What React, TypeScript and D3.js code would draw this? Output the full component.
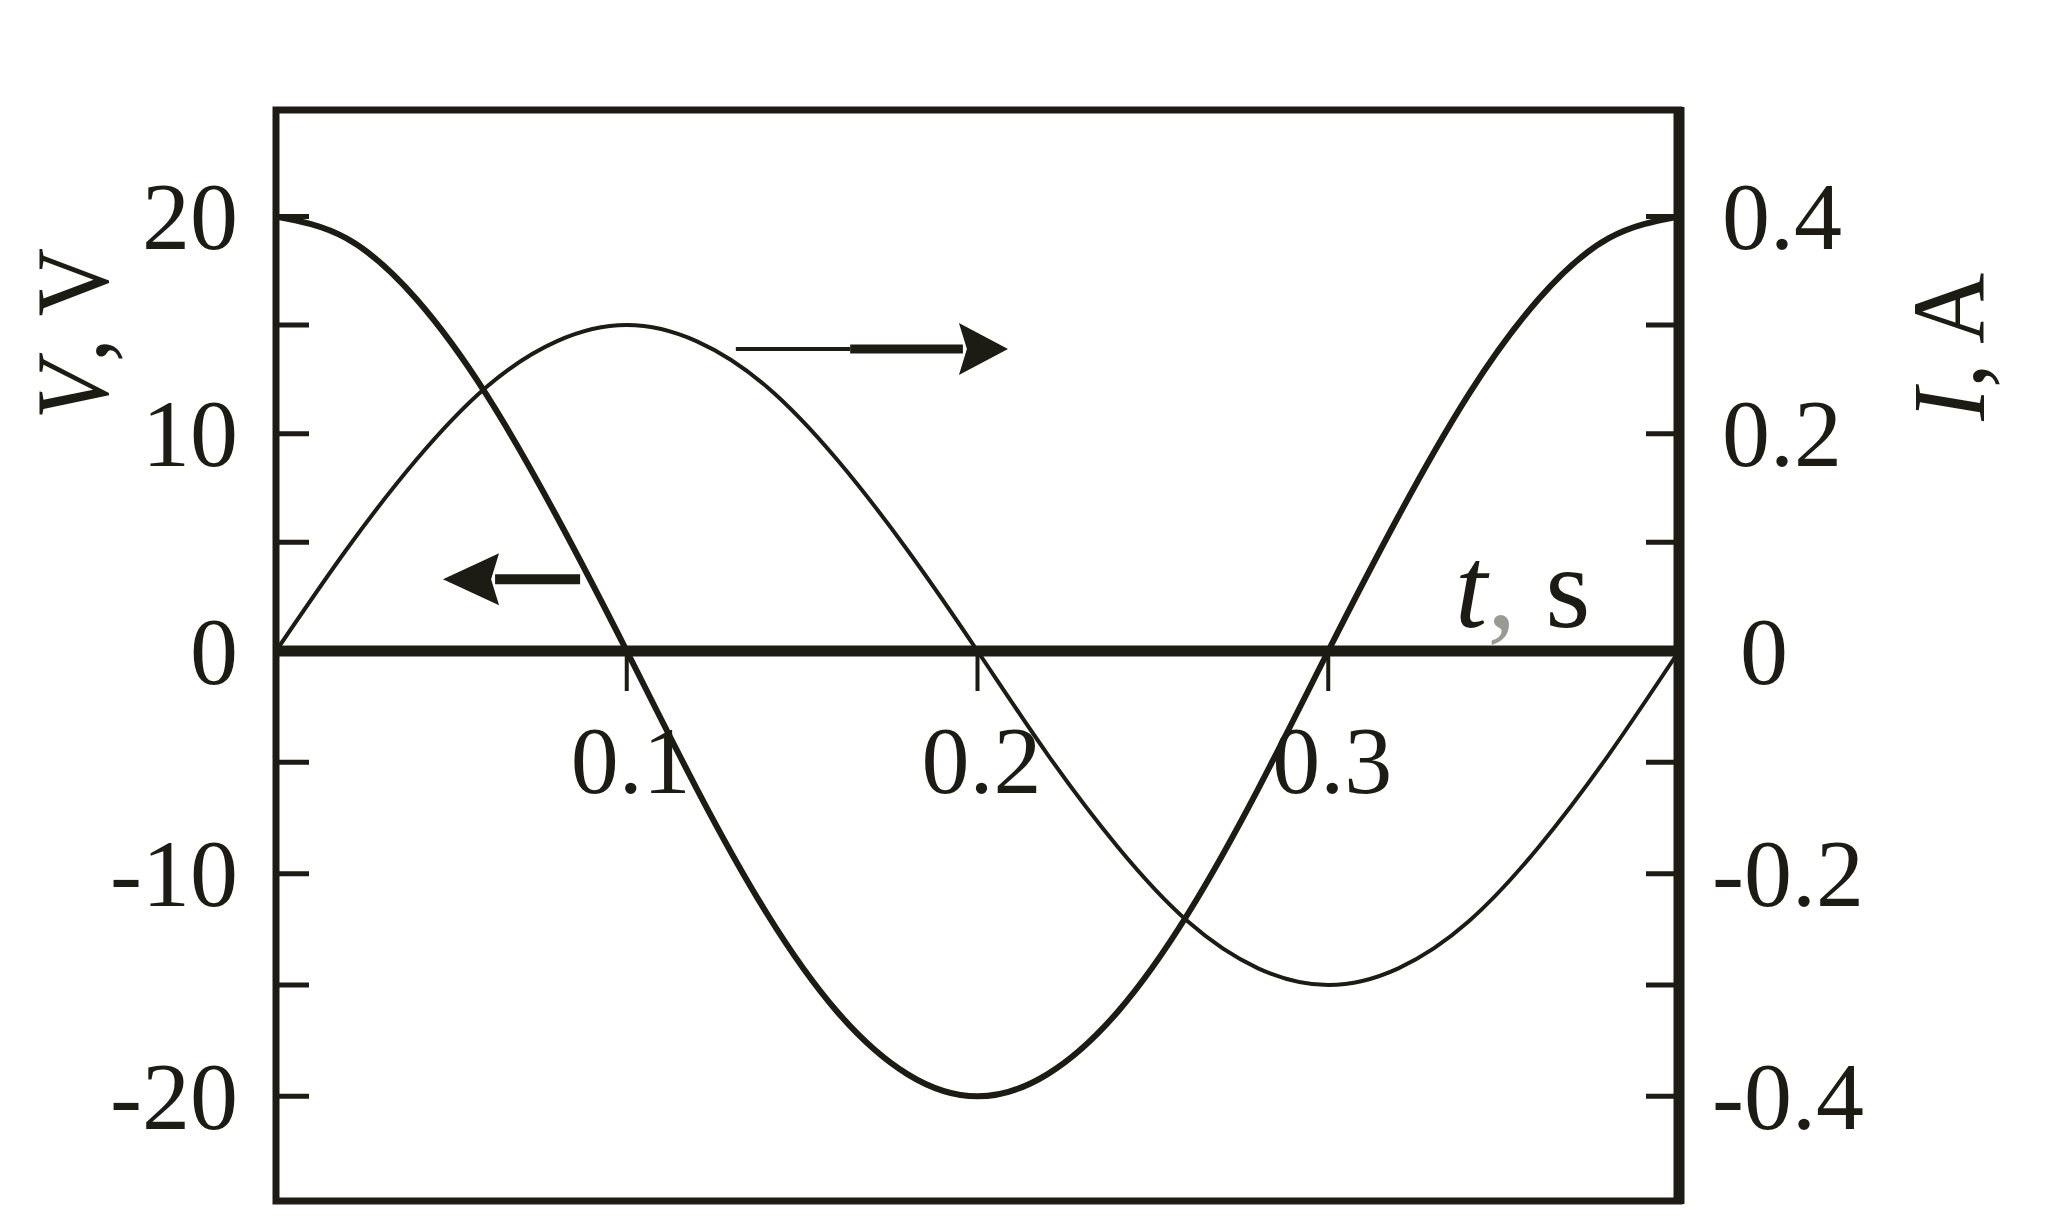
import { useEffect, useRef } from 'react';
import * as d3 from 'd3';

const timeS = [0, 0.02, 0.04, 0.06, 0.08, 0.1, 0.12, 0.14, 0.16, 0.18, 0.2, 0.22, 0.24, 0.26, 0.28, 0.3, 0.32, 0.34, 0.36, 0.38, 0.4];
const voltageV = [20, 19.0, 16.2, 11.8, 6.2, 0, -6.2, -11.8, -16.2, -19.0, -20, -19.0, -16.2, -11.8, -6.2, 0, 6.2, 11.8, 16.2, 19.0, 20];
const currentA = [0, 0.093, 0.176, 0.243, 0.285, 0.3, 0.285, 0.243, 0.176, 0.093, 0, -0.093, -0.176, -0.243, -0.285, -0.3, -0.285, -0.243, -0.176, -0.093, 0];

const vTickMarks = [-20, -15, -10, -5, 0, 5, 10, 15, 20];
const vTickValues = [-20, -10, 0, 10, 20];
const vTickLabels = ['-20', '-10', '0', '10', '20'];
const iTickValues = [-0.4, -0.2, 0, 0.2, 0.4];
const iTickLabels = ['-0.4', '-0.2', '0', '0.2', '0.4'];
const tTickValues = [0.1, 0.2, 0.3];
const tTickLabels = ['0.1', '0.2', '0.3'];

// arrows telling which curve belongs to which axis (t range, level in volts)
const arrowNotes = [
  { dir: 1, t0: 0.1311, tMid: 0.1637, tHead: 0.1947, tTip: 0.2087, v: 13.9 },
  { dir: -1, t0: 0.0867, tMid: 0.0867, tHead: 0.0636, tTip: 0.0476, v: 3.3 },
];

const ink = '#1c1c14';
const font = "'Liberation Serif', 'DejaVu Serif', serif";

export default function App() {
  const svgRef = useRef<SVGSVGElement>(null);

  useEffect(() => {
    if (!svgRef.current) return;
    const width = 2046;
    const height = 1216;
    const left = 276, right = 1679, top = 110, bottom = 1201;

    d3.select(svgRef.current).selectAll('*').remove();
    const svg = d3.select(svgRef.current)
      .attr('width', width)
      .attr('height', height);

    const x = d3.scaleLinear().domain([0, 0.4]).range([left, right]);
    const y = d3.scaleLinear().domain([-24.7, 0, 24.9]).range([bottom, 651, top]);
    const yI = d3.scaleLinear().domain([-0.494, 0, 0.498]).range([bottom, 651, top]);

    const vLine = d3.line<number>()
      .x((_, i) => x(timeS[i]))
      .y(d => y(d))
      .curve(d3.curveNatural);
    const iLine = d3.line<number>()
      .x((_, i) => x(timeS[i]))
      .y(d => yI(d))
      .curve(d3.curveNatural);

    svg.append('path')
      .attr('d', iLine(currentA))
      .attr('fill', 'none')
      .attr('stroke', ink)
      .attr('stroke-width', 4);

    svg.append('path')
      .attr('d', vLine(voltageV))
      .attr('fill', 'none')
      .attr('stroke', ink)
      .attr('stroke-width', 6);

    // zero line (time axis)
    svg.append('line')
      .attr('x1', left).attr('x2', right)
      .attr('y1', y(0)).attr('y2', y(0))
      .attr('stroke', ink).attr('stroke-width', 11);

    // frame
    svg.append('rect')
      .attr('x', left).attr('y', top)
      .attr('width', right - left).attr('height', bottom - top)
      .attr('fill', 'none').attr('stroke', ink).attr('stroke-width', 7);
    svg.append('line')
      .attr('x1', right).attr('x2', right)
      .attr('y1', top - 3).attr('y2', bottom + 3)
      .attr('stroke', ink).attr('stroke-width', 11);

    // inward ticks on both sides
    svg.append('g').selectAll('line')
      .data(vTickMarks)
      .enter()
      .append('line')
      .attr('x1', left).attr('x2', left + 33)
      .attr('y1', d => y(d)).attr('y2', d => y(d))
      .attr('stroke', ink).attr('stroke-width', 5);
    svg.append('g').selectAll('line')
      .data(vTickMarks)
      .enter()
      .append('line')
      .attr('x1', right).attr('x2', right - 33)
      .attr('y1', d => y(d)).attr('y2', d => y(d))
      .attr('stroke', ink).attr('stroke-width', 5);

    // time ticks hanging under the zero line
    svg.append('g').selectAll('line')
      .data(tTickValues)
      .enter()
      .append('line')
      .attr('x1', d => x(d)).attr('x2', d => x(d))
      .attr('y1', y(0)).attr('y2', y(0) + 40)
      .attr('stroke', ink).attr('stroke-width', 4);

    const labels = svg.append('g')
      .style('font-family', font)
      .attr('fill', ink);

    labels.selectAll('.vlab')
      .data(vTickValues)
      .enter()
      .append('text')
      .attr('class', 'vlab')
      .attr('x', 238)
      .attr('y', d => y(d))
      .attr('dy', '0.34em')
      .attr('text-anchor', 'end')
      .style('font-size', '96px')
      .text((_, i) => vTickLabels[i]);

    labels.selectAll('.ilab')
      .data(iTickValues)
      .enter()
      .append('text')
      .attr('class', 'ilab')
      .attr('x', d => (d === 0 ? 1740 : d < 0 ? 1712 : 1722))
      .attr('y', d => yI(d))
      .attr('dy', '0.34em')
      .attr('text-anchor', 'start')
      .style('font-size', '96px')
      .text((_, i) => iTickLabels[i]);

    labels.selectAll('.tlab')
      .data(tTickValues)
      .enter()
      .append('text')
      .attr('class', 'tlab')
      .attr('x', d => x(d) + 4)
      .attr('y', 793)
      .attr('text-anchor', 'middle')
      .style('font-size', '96px')
      .text((_, i) => tTickLabels[i]);

    // axis titles
    const vTitle = labels.append('text')
      .attr('transform', `translate(107,${y(14.6)}) rotate(-90)`)
      .attr('text-anchor', 'middle')
      .attr('textLength', 172)
      .attr('lengthAdjust', 'spacingAndGlyphs')
      .style('font-size', '104px');
    vTitle.append('tspan').style('font-style', 'italic').text('V');
    vTitle.append('tspan').text(', V');

    const iTitle = labels.append('text')
      .attr('transform', `translate(1984,${yI(0.28)}) rotate(-90)`)
      .attr('text-anchor', 'middle')
      .attr('textLength', 148)
      .attr('lengthAdjust', 'spacingAndGlyphs')
      .style('font-size', '104px');
    iTitle.append('tspan').style('font-style', 'italic').text('I');
    iTitle.append('tspan').text(', A');

    const tTitle = labels.append('text')
      .attr('x', 1455)
      .attr('y', 627)
      .style('font-size', '116px');
    tTitle.append('tspan').style('font-style', 'italic').text('t');
    tTitle.append('tspan').attr('fill', '#9a9a94').text(',');
    tTitle.append('tspan').text(' s');

    // arrows
    arrowNotes.forEach(a => {
      const yy = y(a.v);
      if (a.dir > 0) {
        svg.append('line')
          .attr('x1', x(a.t0)).attr('x2', x(a.tMid))
          .attr('y1', yy).attr('y2', yy)
          .attr('stroke', ink).attr('stroke-width', 4);
        svg.append('line')
          .attr('x1', x(a.tMid)).attr('x2', x(a.tHead) + 4)
          .attr('y1', yy).attr('y2', yy)
          .attr('stroke', ink).attr('stroke-width', 9);
      } else {
        svg.append('line')
          .attr('x1', x(a.t0)).attr('x2', x(a.tHead) - 4)
          .attr('y1', yy).attr('y2', yy)
          .attr('stroke', ink).attr('stroke-width', 10);
      }
      const tip = x(a.tTip);
      const base = x(a.tHead);
      const notch = base + a.dir * 8;
      svg.append('path')
        .attr('d', `M${tip},${yy} L${base},${yy - 26} L${notch},${yy} L${base},${yy + 26} Z`)
        .attr('fill', ink);
    });
  }, []);

  return <svg ref={svgRef} style={{ position: 'absolute', left: 0, top: 0, background: '#fff' }}></svg>;
}
